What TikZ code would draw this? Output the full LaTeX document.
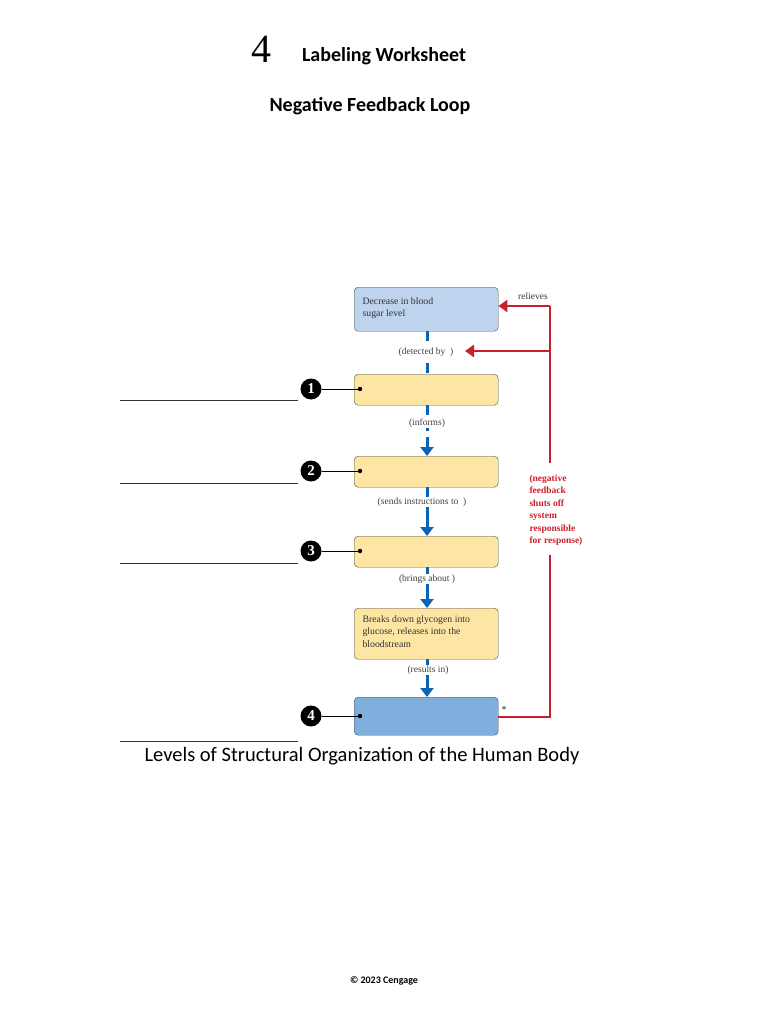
\documentclass[tikz,border=0pt]{standalone}
\usepackage{fontspec}
\setmainfont{Liberation Serif}
\newfontfamily\sans{Carlito}
\usetikzlibrary{arrows.meta}
\definecolor{bl}{HTML}{0A63B4}
\definecolor{rd}{HTML}{C8202A}
\definecolor{lb}{HTML}{BDD3EE}
\definecolor{yl}{HTML}{FDE6A4}
\definecolor{mb}{HTML}{80AEDD}
\begin{document}
\begin{tikzpicture}[x=1pt,y=-1pt,
 box/.style={draw=black!70,rounded corners=4pt,minimum width=144pt,anchor=north west,inner sep=0pt},
 lbl/.style={font=\fontsize{9.5}{11}\selectfont,fill=white,inner sep=1pt,text=black!75},
 num/.style={circle,fill=black,text=white,font=\bfseries\fontsize{15}{15}\selectfont,minimum size=21pt,inner sep=0pt},
 flow/.style={bl,line width=3pt,dash pattern=on 10pt off 6pt},
 tip/.style={-{Triangle[length=9pt,width=13pt]}},
 fb/.style={rd,line width=2.5pt}]
\useasboundingbox (0,0) rectangle (768,1024);
\node[font=\fontsize{40}{40}\selectfont] (n4) at (261,49) {4};
\node[font=\sans\bfseries\fontsize{20}{20}\selectfont] (t1) at (384,56) {Labeling Worksheet};
\node[font=\sans\bfseries\fontsize{20}{20}\selectfont] (t2) at (370,106) {Negative Feedback Loop};
\node[font=\sans\fontsize{20.5}{20.5}\selectfont] (t3) at (362,756) {Levels of Structural Organization of the Human Body};
\node[font=\sans\bfseries\fontsize{10}{10}\selectfont] (cp) at (384,981) {© 2023 Cengage};

\node[box,fill=lb,minimum height=44pt] (b0) at (354,287) {};
\node[anchor=north west,align=left,font=\fontsize{9.8}{12.5}\selectfont,text=black!80] (b0t) at (359,294) {Decrease in blood\\sugar level};
\node[box,fill=yl,minimum height=31pt] (b1) at (354,374) {};
\node[box,fill=yl,minimum height=31pt] (b2) at (354,456) {};
\node[box,fill=yl,minimum height=31pt] (b3) at (354,536) {};
\node[box,fill=yl,minimum height=51pt] (b4) at (354,608) {};
\node[anchor=north west,align=left,font=\fontsize{9.8}{12.5}\selectfont,text=black!80] (b4t) at (359,612) {Breaks down glycogen into\\glucose, releases into the\\bloodstream};
\node[box,fill=mb,minimum height=38pt] (b5) at (354,697) {};
\node[font=\fontsize{9}{9}\selectfont] (st) at (504,710) {*};

\draw[flow] (b0.south -| 427,0) -- (b1.north -| 427,0);
\draw[flow] (b1.south -| 427,0) -- (427,448);
\draw[flow,tip,dash pattern={}] (427,448) -- (b2.north -| 427,0);
\draw[flow] (b2.south -| 427,0) -- (427,527);
\draw[flow,tip,dash pattern={}] (427,511) -- (b3.north -| 427,0);
\draw[flow] (b3.south -| 427,0) -- (427,590);
\draw[flow,tip,dash pattern={}] (427,590) -- (b4.north -| 427,0);
\draw[flow] (b4.south -| 427,0) -- (427,680);
\draw[flow,tip,dash pattern={}] (427,680) -- (b5.north -| 427,0);
\node[lbl] (l1) at (426,352) {(detected by~~)};
\node[lbl] (l2) at (427,423) {(informs)};
\node[lbl] (l3) at (422,502) {(sends instructions to~~)};
\node[lbl] (l4) at (427,579) {(brings about~)};
\node[lbl] (l5) at (428,670) {(results in)};

\coordinate (rb) at (550,717);
\coordinate (rt) at (550,306);
\coordinate (rm) at (550,351);
\coordinate (ra) at (465,351);
\draw[fb] (b5.east |- rb) -- (rb) -- (550,555);
\draw[fb] (550,463) -- (rt);
\draw[fb,-{Triangle[length=9pt,width=12pt]}] (rt) -- (b0.east |- rt);
\draw[fb,-{Triangle[length=9pt,width=12pt]}] (rm) -- (ra);
\node[font=\fontsize{9.5}{10}\selectfont,text=black!80] (rel) at (533,296) {relieves};
\node[anchor=north west,align=left,text=rd,font=\bfseries\fontsize{9.5}{12.5}\selectfont] (neg) at (526,471) {(negative\\feedback\\shuts off\\system\\responsible\\for response)};

\foreach \i/\y/\b in {1/389/b1,2/471/b2,3/551/b3,4/716/b5}{
 \node[num] (c\i) at (311,\y) {\i};
 \coordinate (d\i) at (360,\y);
 \fill (d\i) circle (2.2pt);
 \draw[thick] (c\i) -- (d\i);
}
\coordinate (u1a) at (120,400); \coordinate (u1b) at (298,400);
\coordinate (u2a) at (120,483); \coordinate (u2b) at (298,483);
\coordinate (u3a) at (120,563); \coordinate (u3b) at (298,563);
\coordinate (u4a) at (120,741); \coordinate (u4b) at (298,741);
\foreach \k in {1,2,3,4}{\draw[black!80,line width=0.8pt] (u\k a) -- (u\k b);}
\end{tikzpicture}
\end{document}
